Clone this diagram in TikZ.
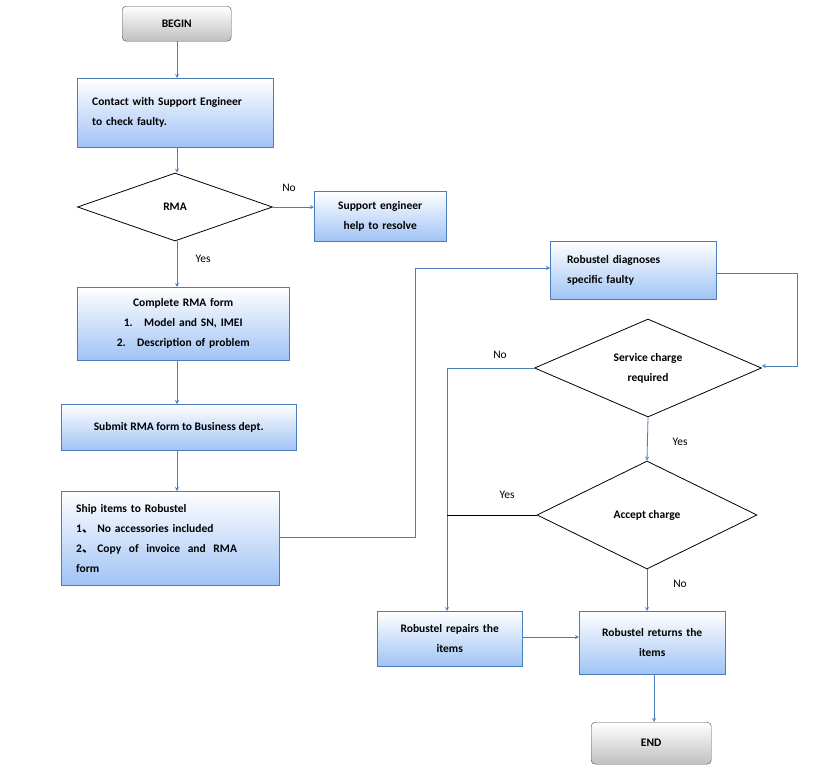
\documentclass[tikz,border=0pt]{standalone}
\usepackage{fontspec}
\setmainfont{Carlito}
\newfontfamily\cjk{Noto Sans CJK SC}
\usetikzlibrary{shapes.geometric,positioning}
\definecolor{lineblue}{RGB}{74,126,187}
\definecolor{boxblue}{RGB}{160,195,245}
\tikzset{%
    stepbox/.style={draw=lineblue, top color=white, bottom color=boxblue,
        font=\bfseries\fontsize{11.5}{20}\selectfont, anchor=north west, inner sep=0pt},
    termbox/.style={draw=black!70, rounded corners=4pt, top color=white, bottom color=black!25,
        font=\bfseries\fontsize{11.5}{12}\selectfont, anchor=north west, inner sep=0pt},
    choice/.style={diamond, draw=black, thick, fill=white, aspect=3.3, inner sep=0pt,
        font=\bfseries\fontsize{11.5}{20}\selectfont},
    flow/.style={->, >=stealth, draw=lineblue, thick},
    tag/.style={font=\fontsize{11.5}{12}\selectfont}
}
\begin{document}
\begin{tikzpicture}[x=1pt,y=-1pt]
\useasboundingbox (0,0) rectangle (816,771);
%-----------------------------------------------
    \node[termbox, minimum width=109pt, minimum height=35pt] (begin) at (122,6) {BEGIN};
    \node[stepbox, minimum width=196pt, minimum height=69pt, align=left, text width=186pt] (contact) at (77,78)
        {\hspace*{10pt}Contact with Support Engineer\\\hspace*{10pt}to check faulty.};
    \node[choice, minimum width=195pt, minimum height=68pt] (rma) at (175,207) {RMA};
    \node[stepbox, minimum width=132pt, minimum height=50pt, align=center, text width=132pt] (support) at (314,191)
        {Support engineer\\help to resolve};
    \node[stepbox, minimum width=212pt, minimum height=73pt, align=center, text width=212pt] (form) at (77,287)
        {Complete RMA form\\1.\quad Model and SN, IMEI\\2.\quad Description of problem};
    \node[stepbox, minimum width=235pt, minimum height=46pt] (submit) at (61,404) {Submit RMA form to Business dept.};
    \node[stepbox, minimum width=218pt, minimum height=94pt, align=left, text width=208pt] (ship) at (61,491)
        {\hspace*{10pt}Ship items to Robustel\\\hspace*{10pt}1{\cjk 、}\ No accessories included\\\hspace*{10pt}2{\cjk 、}\ Copy\ \ of\ \ invoice\ \ and\ \ RMA\\\hspace*{10pt}form};
%-----------------------------------------------
    \node[stepbox, minimum width=166pt, minimum height=58pt, align=left, text width=156pt] (diagnose) at (550,241)
        {\hspace*{12pt}Robustel diagnoses\\\hspace*{12pt}specific faulty};
    \node[choice, minimum width=227pt, minimum height=98pt, align=center] (service) at (648,368)
        {Service charge\\required};
    \node[choice, minimum width=220pt, minimum height=108pt] (accept) at (647,515) {Accept charge};
    \node[stepbox, minimum width=145pt, minimum height=55pt, align=center, text width=145pt] (repair) at (377,611)
        {Robustel repairs the\\items};
    \node[stepbox, minimum width=146pt, minimum height=63pt, align=center, text width=146pt] (return) at (579,611)
        {Robustel returns the\\items};
    \node[termbox, minimum width=120pt, minimum height=42pt] (end) at (591,722) {END};
%-----------------------------------------------
    \coordinate (shipout) at (415,537);
    \coordinate (shipup) at (415,268);
    \coordinate (diagout) at (797,273);
    \coordinate (diagdown) at (797,366);
    \coordinate (nocorner) at (447,368);
    \coordinate (yesjoin) at (447,515);
    \draw[flow] (begin.south -| 177,0) -- (contact.north -| 177,0);
    \draw[flow] (contact.south -| 177,0) -- (rma.north -| 177,0);
    \draw[flow] (rma.south -| 177,0) -- (form.north -| 177,0);
    \draw[flow] (rma.east) -- (support.west |- rma.east);
    \draw[flow] (form.south -| 177,0) -- (submit.north -| 177,0);
    \draw[flow] (submit.south -| 177,0) -- (ship.north -| 177,0);
    \draw[flow] (ship.east |- shipout) -- (shipout) -- (shipup) -- (diagnose.west |- shipup);
    \draw[flow] (diagnose.east |- diagout) -- (diagout) -- (diagdown) -- (service.east |- diagdown);
    \draw[flow] (service.west) -- (nocorner) -- (repair.north -| nocorner);
    \draw[draw=black] (accept.west) -- (yesjoin);
    \draw[flow] (service.south) -- (accept.north);
    \draw[flow] (accept.south) -- (return.north -| accept.south);
    \draw[flow] (repair.east |- 0,637) -- (return.west |- 0,637);
    \draw[flow] (return.south -| 654,0) -- (end.north -| 654,0);
%-----------------------------------------------
    \node[tag] (no1) at (289,188) {No};
    \node[tag] (yes1) at (203,259) {Yes};
    \node[tag] (no2) at (500,355) {No};
    \node[tag] (yes2) at (680,442) {Yes};
    \node[tag] (yes3) at (507,495) {Yes};
    \node[tag] (no3) at (680,584) {No};
\end{tikzpicture}
\end{document}
